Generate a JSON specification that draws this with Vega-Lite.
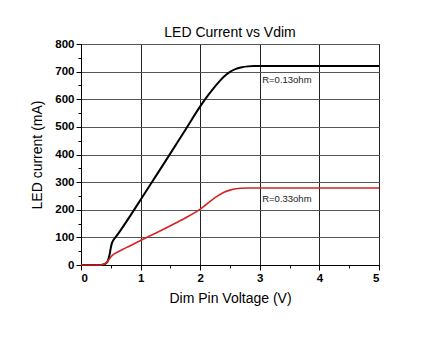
{
  "$schema": "https://vega.github.io/schema/vega-lite/v6.json",
  "autosize": "none",
  "width": 298,
  "height": 221,
  "padding": {"left": 81, "top": 44, "right": 61, "bottom": 91},
  "background": "white",
  "title": {"text": "LED Current vs Vdim", "fontSize": 14, "font": "Liberation Sans", "fontWeight": "normal", "color": "#000", "offset": -2},
  "config": {
    "view": {"stroke": "#000", "strokeWidth": 1},
    "font": "Liberation Sans"
  },
  "datasets": {
    "curves": [
      {"v": 0, "i": 0, "series": "R=0.13ohm"},
      {"v": 0.3, "i": 0, "series": "R=0.13ohm"},
      {"v": 0.36, "i": 1, "series": "R=0.13ohm"},
      {"v": 0.41, "i": 5, "series": "R=0.13ohm"},
      {"v": 0.45, "i": 15, "series": "R=0.13ohm"},
      {"v": 0.48, "i": 38, "series": "R=0.13ohm"},
      {"v": 0.5, "i": 62, "series": "R=0.13ohm"},
      {"v": 0.52, "i": 80, "series": "R=0.13ohm"},
      {"v": 0.55, "i": 92, "series": "R=0.13ohm"},
      {"v": 0.6, "i": 106, "series": "R=0.13ohm"},
      {"v": 0.7, "i": 137, "series": "R=0.13ohm"},
      {"v": 0.85, "i": 186, "series": "R=0.13ohm"},
      {"v": 1.0, "i": 236, "series": "R=0.13ohm"},
      {"v": 1.25, "i": 320, "series": "R=0.13ohm"},
      {"v": 1.5, "i": 404, "series": "R=0.13ohm"},
      {"v": 1.75, "i": 489, "series": "R=0.13ohm"},
      {"v": 2.0, "i": 574, "series": "R=0.13ohm"},
      {"v": 2.1, "i": 605, "series": "R=0.13ohm"},
      {"v": 2.2, "i": 633, "series": "R=0.13ohm"},
      {"v": 2.3, "i": 659, "series": "R=0.13ohm"},
      {"v": 2.4, "i": 682, "series": "R=0.13ohm"},
      {"v": 2.5, "i": 699, "series": "R=0.13ohm"},
      {"v": 2.6, "i": 710, "series": "R=0.13ohm"},
      {"v": 2.7, "i": 716, "series": "R=0.13ohm"},
      {"v": 2.8, "i": 719, "series": "R=0.13ohm"},
      {"v": 2.9, "i": 720, "series": "R=0.13ohm"},
      {"v": 5.0, "i": 720, "series": "R=0.13ohm"},
      {"v": 0, "i": 0, "series": "R=0.33ohm"},
      {"v": 0.3, "i": 0, "series": "R=0.33ohm"},
      {"v": 0.37, "i": 2, "series": "R=0.33ohm"},
      {"v": 0.42, "i": 8, "series": "R=0.33ohm"},
      {"v": 0.46, "i": 17, "series": "R=0.33ohm"},
      {"v": 0.5, "i": 29, "series": "R=0.33ohm"},
      {"v": 0.53, "i": 36, "series": "R=0.33ohm"},
      {"v": 0.6, "i": 45, "series": "R=0.33ohm"},
      {"v": 0.75, "i": 62, "series": "R=0.33ohm"},
      {"v": 1.0, "i": 89, "series": "R=0.33ohm"},
      {"v": 1.25, "i": 115, "series": "R=0.33ohm"},
      {"v": 1.5, "i": 142, "series": "R=0.33ohm"},
      {"v": 1.75, "i": 170, "series": "R=0.33ohm"},
      {"v": 2.0, "i": 202, "series": "R=0.33ohm"},
      {"v": 2.1, "i": 219, "series": "R=0.33ohm"},
      {"v": 2.2, "i": 236, "series": "R=0.33ohm"},
      {"v": 2.3, "i": 251, "series": "R=0.33ohm"},
      {"v": 2.4, "i": 263, "series": "R=0.33ohm"},
      {"v": 2.5, "i": 271, "series": "R=0.33ohm"},
      {"v": 2.6, "i": 276, "series": "R=0.33ohm"},
      {"v": 2.7, "i": 278, "series": "R=0.33ohm"},
      {"v": 2.8, "i": 279, "series": "R=0.33ohm"},
      {"v": 5.0, "i": 279, "series": "R=0.33ohm"}
    ],
    "labels": [
      {"v": 3.04, "i": 668, "text": "R=0.13ohm"},
      {"v": 3.04, "i": 240, "text": "R=0.33ohm"}
    ]
  },
  "resolve": {"axis": {"x": "independent", "y": "independent"}},
  "layer": [
    {
      "data": {"name": "curves"},
      "mark": {"type": "line", "interpolate": "monotone"},
      "encoding": {
        "x": {
          "field": "v", "type": "quantitative",
          "scale": {"domain": [0, 5], "nice": false},
          "axis": {
            "orient": "bottom", "values": [0, 1, 2, 3, 4, 5], "title": "Dim Pin Voltage (V)",
            "grid": true, "gridColor": "#222", "gridOpacity": 1, "gridWidth": 1,
            "domainColor": "#000", "tickColor": "#000", "tickSize": 5,
            "labelFont": "Liberation Sans", "labelFontWeight": "bold", "labelFontSize": 11.5, "labelColor": "#000", "labelPadding": 2,
            "titleFont": "Liberation Sans", "titleFontWeight": "normal", "titleFontSize": 14, "titleColor": "#000", "titlePadding": 8
          }
        },
        "y": {
          "field": "i", "type": "quantitative",
          "scale": {"domain": [0, 800], "nice": false},
          "axis": {
            "orient": "left", "values": [0, 100, 200, 300, 400, 500, 600, 700, 800], "title": "LED current (mA)",
            "grid": true, "gridColor": "#555", "gridOpacity": 1, "gridWidth": 1,
            "domainColor": "#000", "tickColor": "#000", "tickSize": 5,
            "labelFont": "Liberation Sans", "labelFontWeight": "bold", "labelFontSize": 11.5, "labelColor": "#000", "labelPadding": 2,
            "titleFont": "Liberation Sans", "titleFontWeight": "normal", "titleFontSize": 14, "titleColor": "#000", "titlePadding": 10
          }
        },
        "color": {
          "field": "series", "type": "nominal",
          "scale": {"domain": ["R=0.13ohm", "R=0.33ohm"], "range": ["#000000", "#d42424"]},
          "legend": null
        },
        "strokeWidth": {
          "field": "series", "type": "nominal",
          "scale": {"domain": ["R=0.13ohm", "R=0.33ohm"], "range": [2, 1.6]},
          "legend": null
        }
      }
    },
    {
      "data": {"name": "labels"},
      "mark": {"type": "text", "align": "left", "baseline": "middle", "fontSize": 9.5, "font": "Liberation Sans", "color": "#222"},
      "encoding": {
        "x": {
          "field": "v", "type": "quantitative",
          "scale": {"domain": [0, 5], "nice": false},
          "axis": {"orient": "bottom", "values": [0.5, 1.5, 2.5, 3.5, 4.5], "labels": false, "title": null, "grid": false, "domain": false, "ticks": true, "tickSize": 3, "tickColor": "#000"}
        },
        "y": {
          "field": "i", "type": "quantitative",
          "scale": {"domain": [0, 800], "nice": false},
          "axis": {"orient": "left", "values": [50, 150, 250, 350, 450, 550, 650, 750], "labels": false, "title": null, "grid": false, "domain": false, "ticks": true, "tickSize": 3, "tickColor": "#000"}
        },
        "text": {"field": "text", "type": "nominal"}
      }
    }
  ]
}
